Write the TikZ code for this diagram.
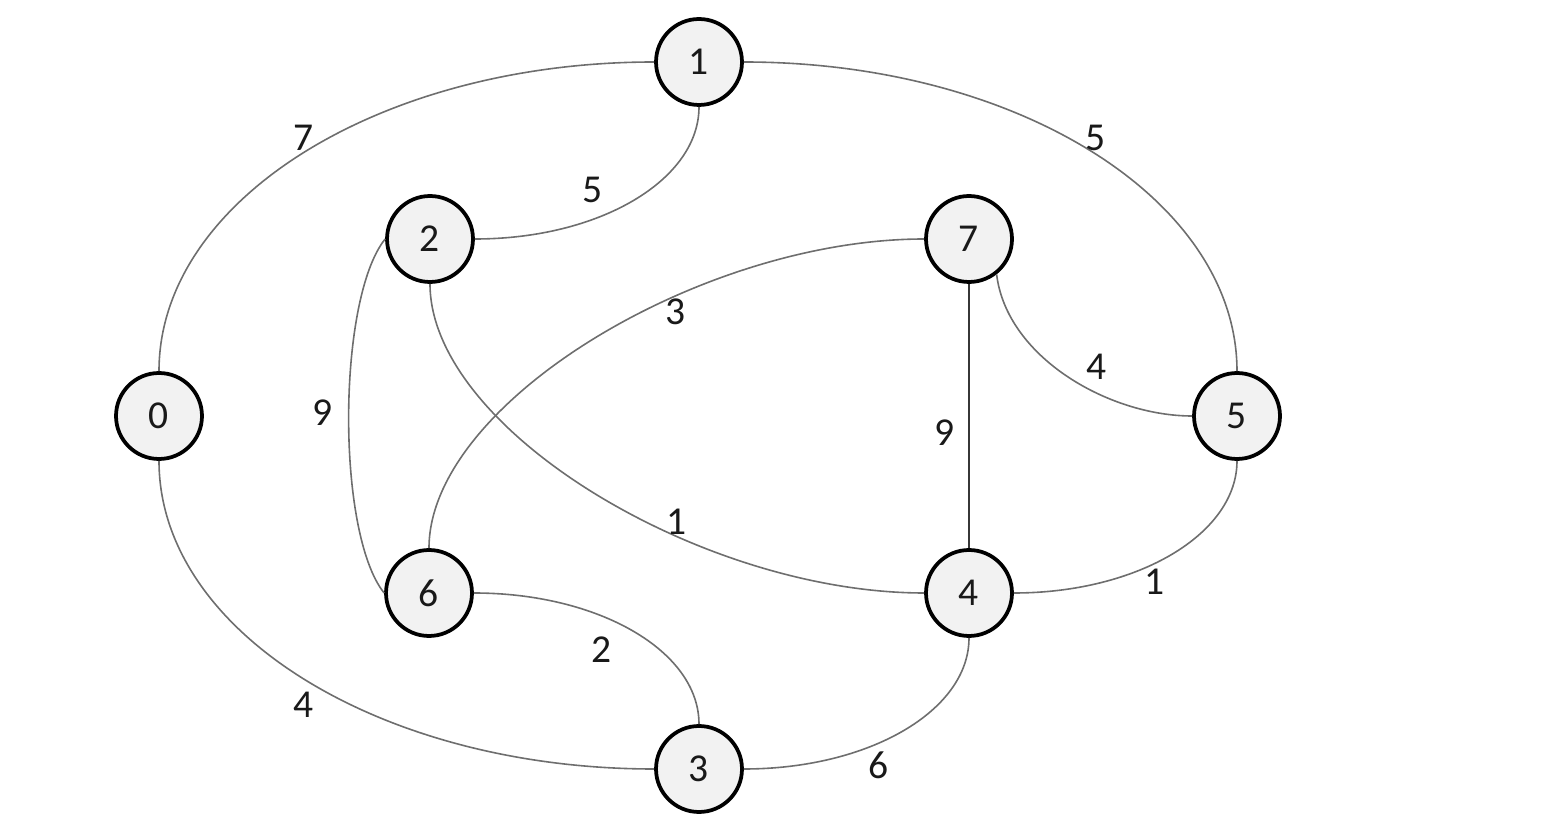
\documentclass[tikz,border=0pt]{standalone}
\usepackage{fontspec}
\setmainfont{Carlito}
\definecolor{nodefill}{RGB}{242,242,242}
\definecolor{edgecol}{RGB}{110,110,110}
\definecolor{edgedark}{RGB}{55,55,55}
\definecolor{txt}{RGB}{25,25,25}
\begin{document}
\begin{tikzpicture}[x=0.02cm,y=-0.02cm,
  vertex/.style={circle,draw=black,fill=nodefill,line width=0.075cm,minimum size=1.72cm,inner sep=0pt,text=txt,font=\fontsize{22.5}{27}\selectfont},
  wlabel/.style={inner sep=0pt,text=txt,font=\fontsize{22.5}{27}\selectfont},
  edge/.style={draw=edgecol,line width=0.032cm},
  darkedge/.style={draw=edgedark,line width=0.032cm}]
\useasboundingbox (0,0) rectangle (1546,820);
% vertices
\node[vertex] (n0) at (159,416) {0};
\node[vertex] (n1) at (699,62) {1};
\node[vertex] (n2) at (430,239) {2};
\node[vertex] (n3) at (699,769) {3};
\node[vertex] (n4) at (969,593) {4};
\node[vertex] (n5) at (1237,416) {5};
\node[vertex] (n6) at (429,593) {6};
\node[vertex] (n7) at (969,239) {7};
% edges
\path[edge] (n0.north) .. controls +(0,-171) and +(-274,0) .. (n1.west);
\path[edge] (n1.east) .. controls +(274,0) and +(0,-171) .. (n5.north);
\path[edge] (n0.south) .. controls +(0,171) and +(-274,0) .. (n3.west);
\path[edge] (n4.south) .. controls +(0,73) and +(125,0) .. (n3.east);
\path[edge] (n1.south) .. controls +(0,73) and +(125,0) .. (n2.east);
\path[edge] (n6.east) .. controls +(125,0) and +(0,-73) .. (n3.north);
\path[edge] (n5.south) .. controls +(0,73) and +(124,0) .. (n4.east);
\path[edge] (n2.south) .. controls +(0,145) and +(-223,0) .. (n4.west);
\path[edge] (n7.west) .. controls +(-223,0) and +(0,-145) .. (n6.north);
\path[edge] (n2.west) .. controls +(-48,60) and +(-48,-60) .. (n6.west);
\path[edge] (n7.-52) .. controls +(10,83) and +(-83,0) .. (n5.west);
\path[darkedge] (n7.south) -- (n4.north);
% weights
\node[wlabel] (w01) at (304,138) {7};
\node[wlabel] (w15) at (1096,138) {5};
\node[wlabel] (w12) at (593,190) {5};
\node[wlabel] (w26) at (323,413) {9};
\node[wlabel] (w76) at (676,312) {3};
\node[wlabel] (w24) at (677,522) {1};
\node[wlabel] (w74) at (945,433) {9};
\node[wlabel] (w75) at (1097,367) {4};
\node[wlabel] (w54) at (1155,582) {1};
\node[wlabel] (w03) at (304,705) {4};
\node[wlabel] (w63) at (602,650) {2};
\node[wlabel] (w43) at (879,765) {6};
\end{tikzpicture}
\end{document}
